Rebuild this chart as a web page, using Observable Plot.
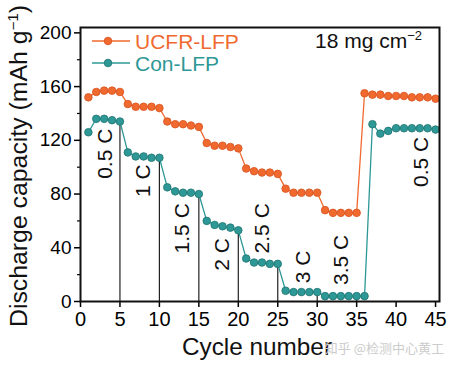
<!DOCTYPE html>
<html><head><meta charset="utf-8">
<script src="https://cdn.jsdelivr.net/npm/d3@7"></script>
<script src="https://cdn.jsdelivr.net/npm/@observablehq/plot@0.6"></script>
<style>
html,body{margin:0;padding:0;background:#fff;}
#chart{width:454px;height:366px;overflow:hidden;}
</style></head><body><div id="chart"></div>
<script>
// ---- data ----
const cycles = d3.range(1, 46);
const ucfr = [152,156,157,157,156, 147,145,145,145,144, 134,132,132,131,130, 118,116,116,115,114,
              99,97,96,96,95, 84,81,81,81,81, 68,66,66,66,66, 155,154,154,153,153,153,152,152,152,151];
const con  = [126,136,136,135,134, 111,108,108,107,107, 85,82,81,81,80, 60,57,56,55,53,
              32,29,29,28,28, 8,7,7,7,7, 4,4,4,4,4,4, 132,125,127,129,129,129,129,129,128];
const seriesNames = ["UCFR-LFP", "Con-LFP"];
const rateLabels = ["0.5 C","1 C","1.5 C","2 C","2.5 C","3 C","3.5 C","0.5 C"];
const rateLabelCycle = [3.1, 8.0, 12.9, 18.0, 23.1, 28.2, 33.1, 43.2];
const rateLabelCap = [110, 90, 54.5, 35, 54.5, 25.7, 31, 104];
const rateBoundaries = [5, 10, 15, 20, 25, 30, 35];
const xTicks = [0,5,10,15,20,25,30,35,40,45];
const yTicks = [0,40,80,120,160,200];
const yMinorTicks = [20,60,100,140,180];
const loading = "18 mg cm";
const loadingExp = "−2";

// ---- styles ----
const font = "'Liberation Sans', Arial, Helvetica, sans-serif";
const orange = "#f06a30", orangeDark = "#d8501c";
const teal = "#2e9896", tealDark = "#1d7371";

const ucfrRows = cycles.map((c, i) => ({cycle: c, cap: ucfr[i]}));
const conRows = cycles.map((c, i) => ({cycle: c, cap: con[i]}));

const chart = Plot.plot({
  width: 454, height: 366,
  marginLeft: 80, marginRight: 15, marginTop: 27, marginBottom: 65,
  style: {fontFamily: font, background: "#fff", color: "#000", overflow: "visible"},
  x: {domain: [0, 45.5]},
  y: {domain: [0, 204]},
  marks: [
    Plot.ruleX(rateBoundaries, {x: d => d, y1: 0, y2: d => con[d - 1], stroke: "#222", strokeWidth: 1.2}),
    Plot.line(ucfrRows, {x: "cycle", y: "cap", stroke: orange, strokeWidth: 1.3}),
    Plot.line(conRows, {x: "cycle", y: "cap", stroke: teal, strokeWidth: 1.3}),
    Plot.dot(ucfrRows, {x: "cycle", y: "cap", r: 3.8, fill: orange, stroke: orangeDark, strokeWidth: 0.8}),
    Plot.dot(conRows, {x: "cycle", y: "cap", r: 3.8, fill: teal, stroke: tealDark, strokeWidth: 0.8}),
    Plot.text(rateLabels, {x: (d, i) => rateLabelCycle[i], y: (d, i) => rateLabelCap[i],
      rotate: -90, fontSize: 21, fill: "#111", textAnchor: "middle", lineAnchor: "middle"}),
    Plot.axisX({ticks: xTicks, tickSize: 6, tickPadding: 4, fontSize: 20, label: null, strokeWidth: 1.5}),
    Plot.axisY({ticks: yTicks, tickSize: 6, tickPadding: 3, fontSize: 19, label: null, strokeWidth: 1.5}),
    Plot.axisY({ticks: yMinorTicks, tickSize: 3, text: null, label: null, strokeWidth: 1.2}),
    Plot.frame({stroke: "#111", strokeWidth: 2})
  ]
});
document.getElementById("chart").appendChild(chart);

// ---- titles, legend, annotation ----
const svg = d3.select(chart);
const legendColors = [[orange, orangeDark], [teal, tealDark]];
const legendY = [41, 63];
seriesNames.forEach((name, i) => {
  const g = svg.append("g");
  g.append("line").attr("x1", 92).attr("x2", 130).attr("y1", legendY[i]).attr("y2", legendY[i])
    .attr("stroke", legendColors[i][0]).attr("stroke-width", 1.5);
  g.append("circle").attr("cx", 108).attr("cy", legendY[i]).attr("r", 3.8)
    .attr("fill", legendColors[i][0]).attr("stroke", legendColors[i][1]).attr("stroke-width", 0.8);
  g.append("text").attr("x", 135).attr("y", legendY[i] + 7.5).attr("font-size", 21)
    .attr("text-anchor", "start")
    .attr("font-family", font).attr("fill", legendColors[i][0]).text(name);
});

const ann = svg.append("text").attr("x", 315).attr("y", 48).attr("font-size", 21)
  .attr("text-anchor", "start")
  .attr("font-family", font).attr("fill", "#111");
ann.append("tspan").text(loading);
ann.append("tspan").attr("font-size", 13).attr("dy", -8).text(loadingExp);

svg.append("text").attr("x", 257).attr("y", 355).attr("text-anchor", "middle")
  .attr("font-size", 24).attr("font-family", font).attr("fill", "#111")
  .attr("textLength", 150).attr("lengthAdjust", "spacingAndGlyphs").text("Cycle number");

const yt = svg.append("text").attr("transform", "translate(27,166) rotate(-90)")
  .attr("text-anchor", "middle").attr("font-size", 23).attr("font-family", font).attr("fill", "#111")
  .attr("textLength", 322).attr("lengthAdjust", "spacingAndGlyphs");
yt.append("tspan").text("Discharge capacity (mAh g");
yt.append("tspan").attr("font-size", 14).attr("dy", -9).text("−1");
yt.append("tspan").attr("dy", 9).text(")");

svg.append("text").attr("x", 444).attr("y", 353).attr("text-anchor", "end")
  .attr("font-size", 13).attr("font-family", "'Noto Sans CJK SC', sans-serif")
  .attr("fill", "#cccccc").text("知乎 @检测中心黄工");
</script></body></html>
